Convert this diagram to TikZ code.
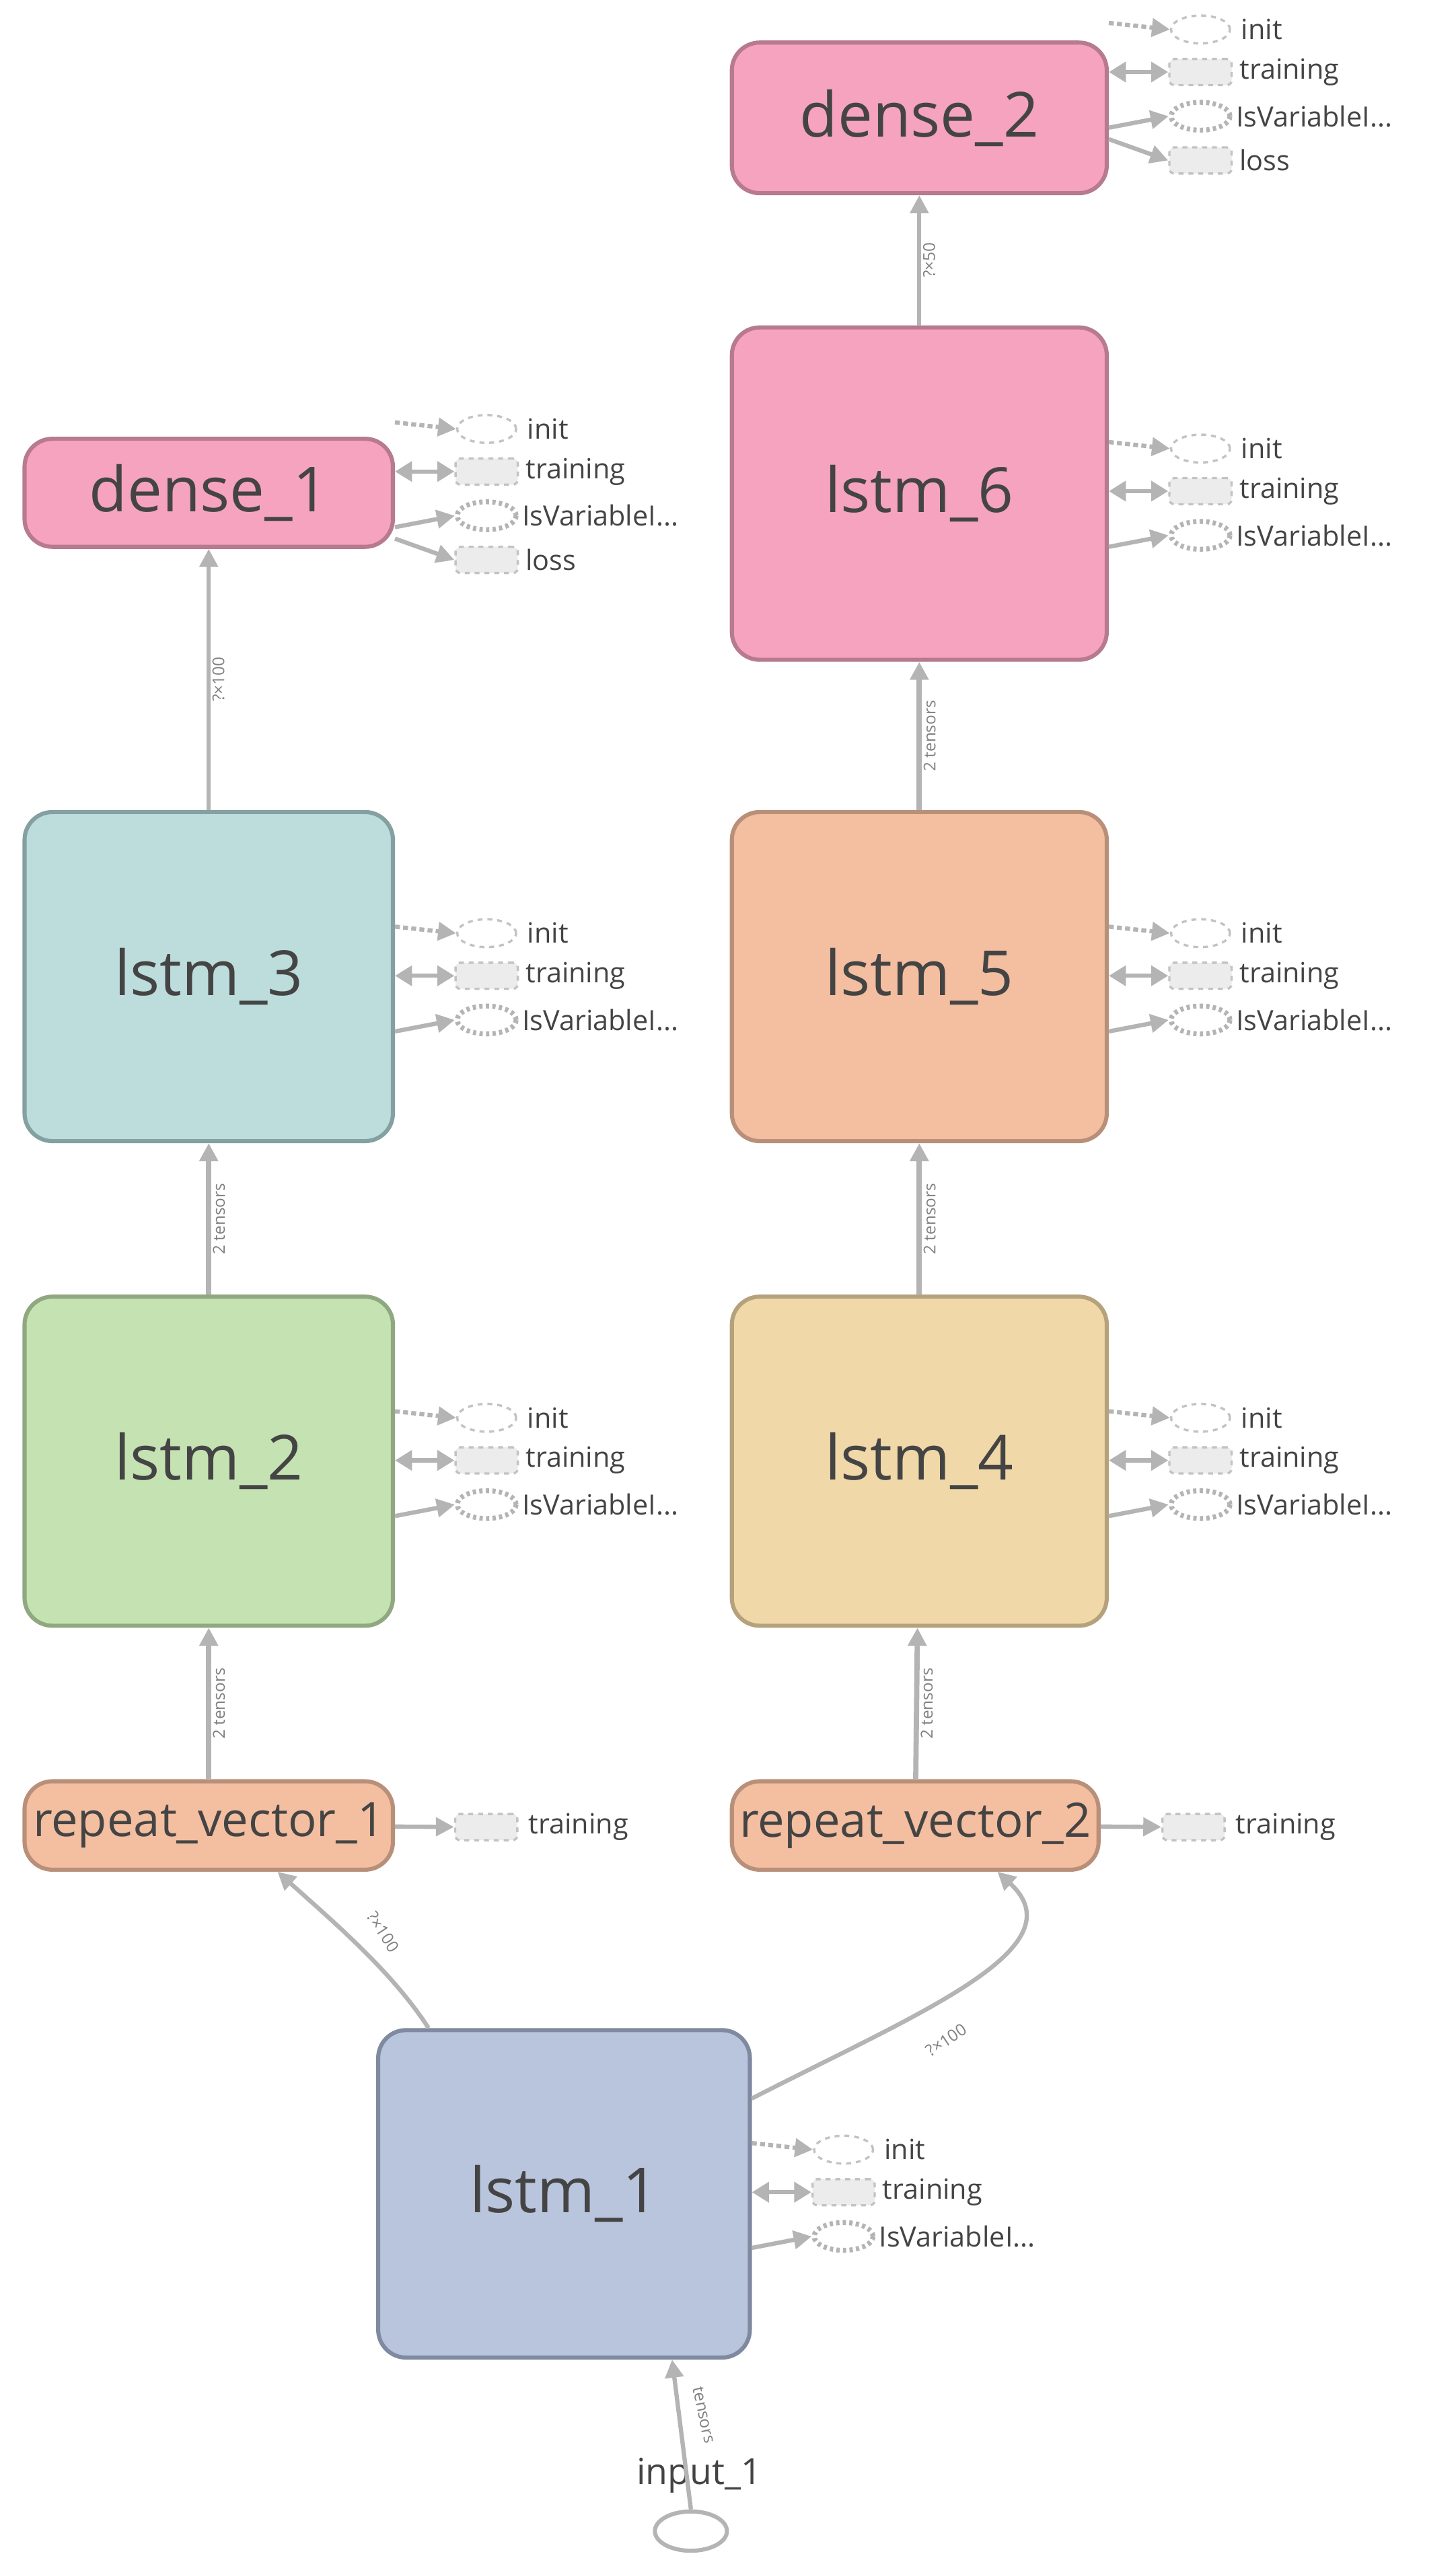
\documentclass[tikz,border=0pt]{standalone}
\usepackage{fontspec}
\setmainfont{Open Sans}
\usetikzlibrary{arrows.meta,shapes.geometric,calc}
\definecolor{eg}{HTML}{B4B4B4}
\definecolor{tx}{HTML}{444444}
\definecolor{pinkF}{HTML}{F5A3BF}\definecolor{pinkD}{HTML}{B77A8F}
\definecolor{tealF}{HTML}{BDDCDC}\definecolor{tealD}{HTML}{84A0A0}
\definecolor{salF}{HTML}{F4BEA0}\definecolor{salD}{HTML}{B8907A}
\definecolor{grnF}{HTML}{C5E2B2}\definecolor{grnD}{HTML}{8FA880}
\definecolor{yelF}{HTML}{F0D8A8}\definecolor{yelD}{HTML}{B5A27C}
\definecolor{bluF}{HTML}{B9C5DD}\definecolor{bluD}{HTML}{7F8AA0}
\newcommand\bx[7]{\node[box,fill=#1F,draw=#1D,minimum width=#4pt,minimum height=#5pt,font=\fontsize{#7}{#7}\selectfont] (#2) at (#3) {#6};}
\newcommand\sideaux[3]{%
 \node[initn] (#1i) at ($(#1.east |- 0,#2)+(56,0)$) {};
 \node[lab,anchor=west] (#1il) at ([xshift=6pt]#1i.east) {init};
 \node[trn] (#1t) at ($(#1i)+(0,26)$) {};
 \node[lab,anchor=west] (#1tl) at ([xshift=4pt]#1t.east) {training};
 \node[isv] (#1v) at ($(#1i)+(0,53)$) {};
 \node[lab,anchor=west] (#1vl) at ([xshift=2pt]#1v.east) {IsVariableI...};
 \draw[edge,dashed,dash pattern=on 3pt off 2pt] ($(#1.east |- #1i)+(0,-4)$) -- (#1i.west);
 \draw[edge,Triangle-Triangle] (#1.east |- #1t) -- (#1t.west);
 \draw[edge] ($(#1.east |- #1v)+(0,7)$) -- (#1v.west);
 \ifx#3y
 \node[trn] (#1l) at ($(#1i)+(0,80)$) {};
 \node[lab,anchor=west] (#1ll) at ([xshift=4pt]#1l.east) {loss};
 \draw[edge] ($(#1.east |- #1v)+(0,14)$) -- (#1l.west);
 \fi}
\begin{document}
\begin{tikzpicture}[x=1pt,y=-1pt,
 box/.style={rectangle,rounded corners=17pt,line width=2.5pt,text=tx,inner sep=0pt},
 edge/.style={draw=eg,line width=2.6pt,-{Triangle[length=11pt,width=11pt]}},
 lab/.style={font=\fontsize{17}{17}\selectfont,text=tx,inner sep=0pt},
 elab/.style={font=\fontsize{10}{10}\selectfont,text=gray,inner sep=1pt},
 initn/.style={ellipse,draw=eg!80,dashed,line width=1.4pt,minimum width=36pt,minimum height=17pt,inner sep=0pt},
 trn/.style={rectangle,rounded corners=3pt,draw=eg!80,fill=gray!15,dashed,line width=1.4pt,minimum width=38pt,minimum height=16pt,inner sep=0pt},
 isv/.style={ellipse,draw=eg,line width=3pt,dash pattern=on 2pt off 2pt,minimum width=36pt,minimum height=17pt,inner sep=0pt}]
\useasboundingbox (0,0) rectangle (889,1560);
\fill[white] (0,0) rectangle (889,1560);
\bx{pink}{dense2}{561.5,72}{229}{92}{dense\_2}{38}
\bx{pink}{lstm6}{561.5,301.5}{229}{203}{lstm\_6}{38}
\bx{pink}{dense1}{127.5,301}{225}{66}{dense\_1}{38}
\bx{teal}{lstm3}{127.5,596.5}{225}{201}{lstm\_3}{38}
\bx{sal}{lstm5}{561.5,596.5}{229}{201}{lstm\_5}{38}
\bx{grn}{lstm2}{127.5,892.5}{225}{201}{lstm\_2}{38}
\bx{yel}{lstm4}{561.5,892.5}{229}{201}{lstm\_4}{38}
\bx{sal}{rv1}{127.5,1115}{225}{54}{repeat\_vector\_1}{29}
\bx{sal}{rv2}{559,1115}{224}{54}{repeat\_vector\_2}{29}
\bx{blu}{lstm1}{344.5,1340}{227}{200}{lstm\_1}{38}
\node[ellipse,draw=eg,line width=2.5pt,minimum width=44pt,minimum height=24pt] (in) at (422,1546) {};
\node[lab,font=\fontsize{22}{22}\selectfont] (inl) at (427,1512) {input\_1};
\sideaux{dense2}{18}{y}
\sideaux{lstm6}{274}{n}
\sideaux{dense1}{262}{y}
\sideaux{lstm3}{570}{n}
\sideaux{lstm5}{570}{n}
\sideaux{lstm2}{866}{n}
\sideaux{lstm4}{866}{n}
\sideaux{lstm1}{1313}{n}
\node[trn] (rv1t) at (297,1116) {};
\node[lab,anchor=west] (rv1tl) at ([xshift=6pt]rv1t.east) {training};
\draw[edge] (rv1) -- (rv1t);
\node[trn] (rv2t) at (729,1116) {};
\node[lab,anchor=west] (rv2tl) at ([xshift=6pt]rv2t.east) {training};
\draw[edge] (rv2) -- (rv2t);
\draw[edge] (lstm3) -- node[elab,rotate=90,anchor=north] {?×100} (dense1);
\draw[edge,line width=3.2pt] (lstm2) -- node[elab,rotate=90,anchor=north] {2 tensors} (lstm3);
\draw[edge,line width=3.2pt] (rv1) -- node[elab,rotate=90,anchor=north] {2 tensors} (lstm2);
\draw[edge] (lstm6) -- node[elab,rotate=90,anchor=north] {?×50} (dense2);
\draw[edge,line width=3.2pt] (lstm5) -- node[elab,rotate=90,anchor=north] {2 tensors} (lstm6);
\draw[edge,line width=3.2pt] (lstm4) -- node[elab,rotate=90,anchor=north] {2 tensors} (lstm5);
\draw[edge,line width=3.2pt] (rv2) -- node[elab,rotate=90,anchor=north] {2 tensors} (lstm4);
\coordinate (a1) at ($(lstm1.north west)+(32,0)$);
\draw[edge] (a1) .. controls (240,1205) and (205,1175) .. ($(rv1.south)+(42,0)$);
\coordinate (a2) at ($(lstm1.north east)+(0,43)$);
\draw[edge] (a2) .. controls (560,1230) and (660,1190) .. ($(rv2.south east)+(-63,0)$);
\node[elab,rotate=-57] (l1) at (234,1180) {?×100};
\node[elab,rotate=34] (l2) at (578,1246) {?×100};
\draw[edge] (in.north) -- ($(lstm1.south)+(66,0)$);
\node[elab,rotate=-78] (l3) at (430,1475) {tensors};
\end{tikzpicture}
\end{document}
